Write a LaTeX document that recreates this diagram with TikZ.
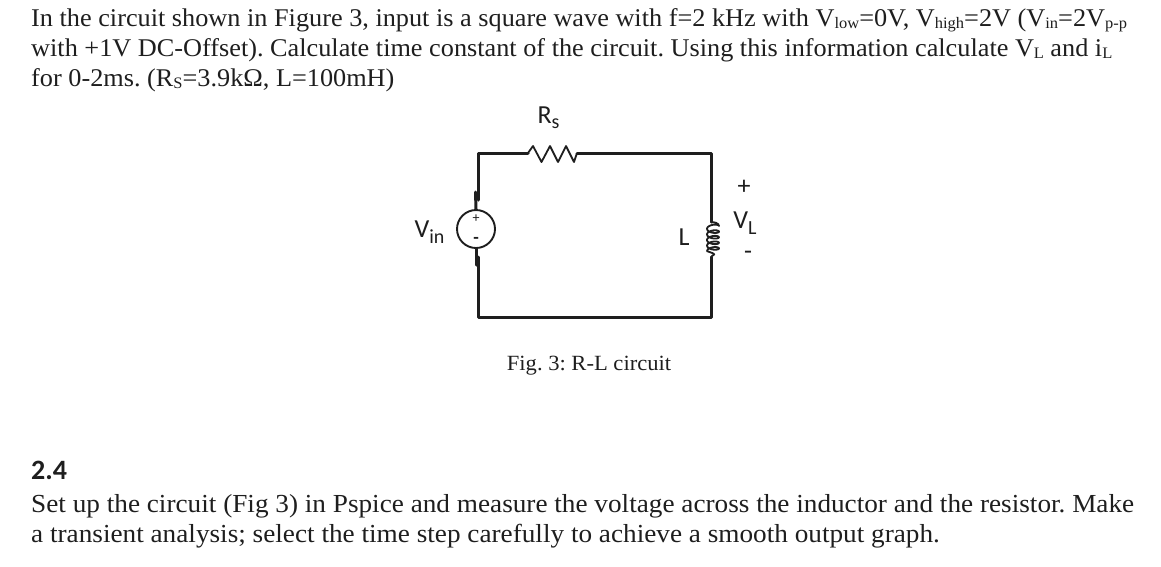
\documentclass[tikz,border=0pt]{standalone}
\usepackage{fontspec}
\setmainfont{Liberation Serif}[FakeStretch=1.03]
\newfontfamily\paraB{Liberation Serif}[FakeStretch=1.047]
\newfontfamily\capfont{Liberation Serif}[FakeStretch=1.04]
\newfontfamily\labelfont{Carlito}
\newcommand{\lowsub}[1]{\raisebox{-2.5pt}{\fontsize{16}{16}\selectfont #1}}
\newcommand{\labsub}[2]{\raisebox{#1}{\fontsize{20}{20}\selectfont #2}}
\definecolor{ink}{HTML}{1E1E1E}
\frenchspacing
\begin{document}
\begin{tikzpicture}[x=1pt,y=-1pt,
  txtline/.style={anchor=base west,inner sep=0pt,text=ink,font=\fontsize{25.5}{26}\selectfont},
  txtlineb/.style={anchor=base west,inner sep=0pt,text=ink,font=\paraB\fontsize{26}{26}\selectfont},
  figcap/.style={anchor=base,inner sep=0pt,text=ink,font=\capfont\fontsize{21.7}{24}\selectfont},
  lab/.style={anchor=base,inner sep=0pt,text=ink,font=\labelfont\fontsize{26}{26}\selectfont},
  wire/.style={draw=ink,line width=3pt,line cap=round,line join=round},
  fine/.style={draw=ink,line width=1.8pt,line join=round}]
\useasboundingbox (0,0) rectangle (1161,566);
% text
\node[txtline] (t1) at (31,26) {In the circuit shown in Figure 3, input is a square wave with f=2 kHz with V\lowsub{low}=0V, V\lowsub{high}=2V (V\lowsub{in}=2V\lowsub{p-p}};
\node[txtline] (t2) at (31,56) {with +1V DC-Offset). Calculate time constant of the circuit. Using this information calculate V\lowsub{L} and i\lowsub{L}};
\node[txtline] (t3) at (31,86) {for 0-2ms. (R\lowsub{S}=3.9kΩ, L=100mH)};
\node[anchor=base west,inner sep=0pt,text=ink,font=\labelfont\bfseries\fontsize{28}{28}\selectfont] (h) at (31,479) {2.4};
\node[txtlineb] (t4) at (31,512) {Set up the circuit (Fig 3) in Pspice and measure the voltage across the inductor and the resistor. Make};
\node[txtlineb] (t5) at (31,542) {a transient analysis; select the time step carefully to achieve a smooth output graph.};
\node[figcap] (fig) at (589,370) {Fig. 3: R-L circuit};
% circuit labels
\node[lab] (rs) at (548.5,123) {R\labsub{-5pt}{s}};
\node[lab] (vin) at (429.5,237) {V\labsub{-6pt}{in}};
\node[lab] (ll) at (684,245) {L};
\node[lab] (vl) at (745,228) {V\labsub{-6pt}{L}};
\node[inner sep=0pt,text=ink,font=\labelfont\fontsize{26}{26}\selectfont] (vp) at (744,187) {+};
\node[inner sep=0pt,text=ink,font=\labelfont\fontsize{26}{26}\selectfont] (vm) at (748,255) {-};
% anchors
\coordinate (tl) at (478,153);
\coordinate (tr) at (711,153);
\coordinate (bl) at (478,317);
\coordinate (br) at (711,317);
\coordinate (ra) at (528,153);
\coordinate (rb) at (577,153);
\coordinate (lt) at (711,222);
\coordinate (lb) at (711,257);
\coordinate (s1) at (478,200);
\coordinate (s2) at (478,257);
\coordinate (st1) at (475.5,192);
\coordinate (st2) at (476,265);
\node[circle,draw=ink,line width=1.9pt,minimum size=38pt,inner sep=0pt] (src) at (476,229) {};
\node[inner sep=0pt,text=ink,font=\labelfont\fontsize{14}{14}\selectfont] (sp) at (476,219) {+};
\node[inner sep=0pt,text=ink,font=\labelfont\bfseries\fontsize{18}{18}\selectfont] (sm) at (476,240) {-};
% wires
\draw[wire] (ra) -- (tl) -- (s1);
\draw[wire] (src.north) -- (st1);
\draw[wire] (rb) -- (tr) -- (lt);
\draw[wire] (lb) -- (br) -- (bl) -- (s2);
\draw[wire] (src.south) -- (st2);
% resistor
\draw[fine] (ra) -- (533,146) -- (541.5,162) -- (550,146) -- (558,162) -- (566,146) -- (574,162) -- (rb);
% inductor
\draw[fine,line cap=round] (lt) .. controls (714,222) and (719,223) .. (719,226)
  plot[smooth,domain=0:1620,samples=90] ({713+6*cos(\x)},{226+\x/360*5.6-2.6*sin(\x)})
  .. controls (719,255) and (713,254) .. (lb);
\end{tikzpicture}
\end{document}
